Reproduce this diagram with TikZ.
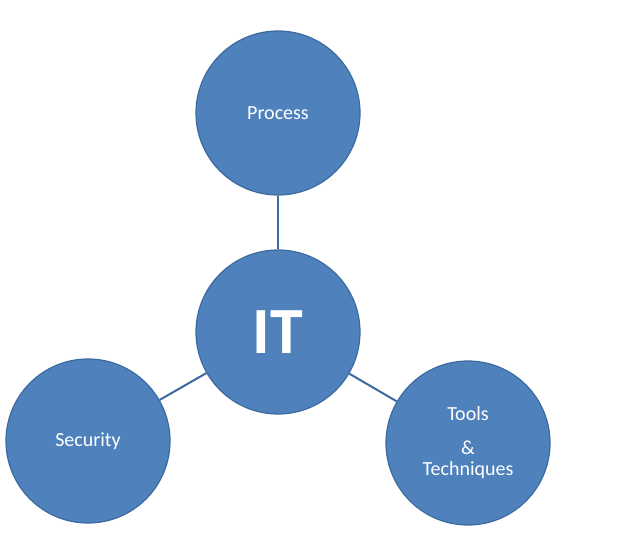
\documentclass[tikz,border=0pt]{standalone}
\usepackage{fontspec}
\setmainfont{Carlito}
\definecolor{fillb}{HTML}{4F81BD}
\definecolor{edgeb}{HTML}{3B6A9F}
\begin{document}
\begin{tikzpicture}[x=1pt,y=-1pt,
  bubble/.style={circle,fill=fillb,draw=edgeb,line width=1.2pt,minimum size=164pt,inner sep=0pt,text=white,font=\fontsize{20}{24}\selectfont,align=center},
  link/.style={draw=edgeb,line width=2pt}]
\useasboundingbox[fill=white] (0,0) rectangle (640,556);
\node[bubble] (process) at (278,113) {Process};
\node[bubble,font=\fontsize{66}{70}\selectfont\bfseries] (it) at (278,332) {IT};
\node[bubble] (sec) at (88,441) {Security};
\node[bubble] (tools) at (468,443) {Tools\\[10pt]\&\\[-3pt]Techniques};
\draw[link] (process) -- (it);
\draw[link] (it) -- (sec);
\draw[link] (it) -- (tools);
\end{tikzpicture}
\end{document}
